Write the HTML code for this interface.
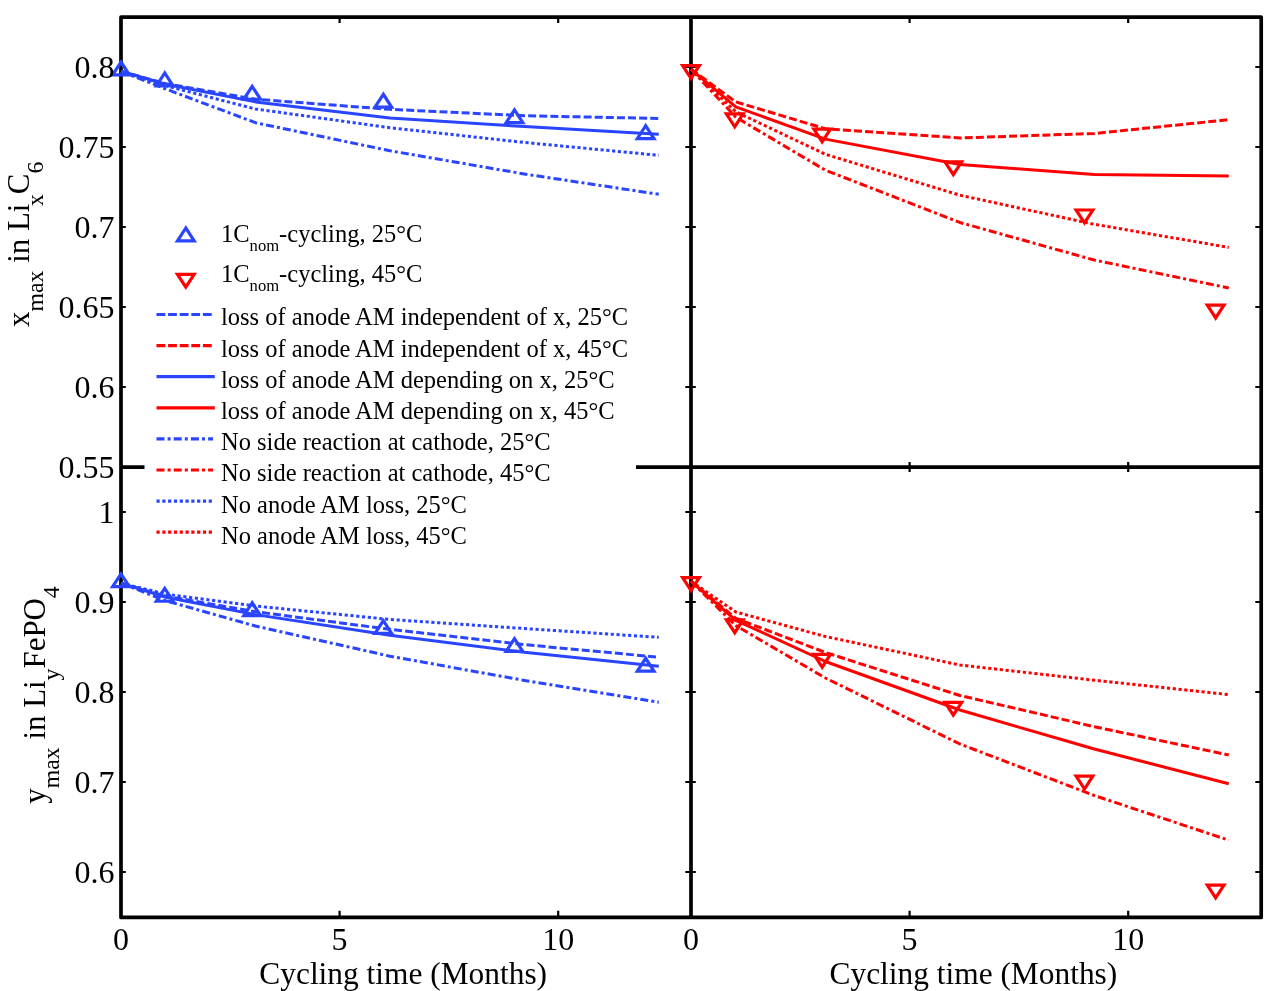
<!DOCTYPE html>
<html><head><meta charset="utf-8"><title>chart</title>
<style>
html,body{margin:0;padding:0;background:#fff;}
body{width:1280px;height:991px;overflow:hidden;}
svg{display:block;}
#wrap{filter:blur(0.45px);width:1280px;height:991px;}
text{font-family:"Liberation Serif", serif;fill:#000;}
</style></head>
<body>
<div id="wrap"><svg width="1280" height="991" viewBox="0 0 1280 991">
<rect width="1280" height="991" fill="#fff"/>
<path d="M121,387.00h4.8 M685.3,387.00h10.5 M1261,387.00h-5.7 M121,307.00h4.8 M685.3,307.00h10.5 M1261,307.00h-5.7 M121,227.00h4.8 M685.3,227.00h10.5 M1261,227.00h-5.7 M121,147.00h4.8 M685.3,147.00h10.5 M1261,147.00h-5.7 M121,67.00h4.8 M685.3,67.00h10.5 M1261,67.00h-5.7 M121,872.00h4.8 M685.3,872.00h10.5 M1261,872.00h-5.7 M121,782.00h4.8 M685.3,782.00h10.5 M1261,782.00h-5.7 M121,692.00h4.8 M685.3,692.00h10.5 M1261,692.00h-5.7 M121,602.00h4.8 M685.3,602.00h10.5 M1261,602.00h-5.7 M121,512.00h4.8 M685.3,512.00h10.5 M1261,512.00h-5.7 M339.60,17v6 M339.60,462v10 M339.60,917v-6.2 M909.60,17v6 M909.60,462v10 M909.60,917v-6.2 M558.20,17v6 M558.20,462v10 M558.20,917v-6.2 M1128.20,17v6 M1128.20,462v10 M1128.20,917v-6.2" stroke="#000" stroke-width="2.2" fill="none"/>
<path d="M121,17.2H1261.2V917.4H121Z M691,17.2V917.4 M121,467.2H1261.2" stroke="#000" stroke-width="3.7" fill="none" stroke-linejoin="round"/>
<polyline points="121.00,71.30 165.81,83.69 255.44,99.25 389.88,109.33 524.32,115.70 658.76,118.50" fill="none" stroke="#2a45ff" stroke-width="3.0" stroke-linejoin="round" stroke-dasharray="8 3.1"/>
<polyline points="121.00,71.30 165.81,84.22 255.44,101.90 389.88,117.92 524.32,126.57 658.76,134.30" fill="none" stroke="#2a45ff" stroke-width="3.0" stroke-linejoin="round"/>
<polyline points="121.00,71.30 165.81,85.79 255.44,108.96 389.88,127.73 524.32,142.44 658.76,155.30" fill="none" stroke="#2a45ff" stroke-width="3.0" stroke-linejoin="round" stroke-dasharray="3.2 2.6"/>
<polyline points="121.00,71.30 165.81,89.02 255.44,122.69 389.88,150.75 524.32,173.99 658.76,194.30" fill="none" stroke="#2a45ff" stroke-width="3.0" stroke-linejoin="round" stroke-dasharray="8 3.1 3 3.1"/>
<polyline points="691.00,69.30 735.81,101.90 825.44,128.80 959.88,138.00 1094.32,133.50 1228.76,119.70" fill="none" stroke="#ff0000" stroke-width="3.0" stroke-linejoin="round" stroke-dasharray="8 3.1"/>
<polyline points="691.00,69.30 735.81,106.90 825.44,139.10 959.88,164.50 1094.32,174.60 1228.76,175.90" fill="none" stroke="#ff0000" stroke-width="3.0" stroke-linejoin="round"/>
<polyline points="691.00,69.30 735.81,111.80 825.44,154.30 959.88,195.20 1094.32,224.29 1228.76,247.40" fill="none" stroke="#ff0000" stroke-width="3.0" stroke-linejoin="round" stroke-dasharray="3.2 2.6"/>
<polyline points="691.00,69.30 735.81,117.20 825.44,170.20 959.88,222.47 1094.32,260.05 1228.76,288.00" fill="none" stroke="#ff0000" stroke-width="3.0" stroke-linejoin="round" stroke-dasharray="8 3.1 3 3.1"/>
<polyline points="121.00,583.10 165.81,596.19 255.44,611.73 389.88,629.36 524.32,644.62 658.76,657.20" fill="none" stroke="#2a45ff" stroke-width="3.0" stroke-linejoin="round" stroke-dasharray="8 3.1"/>
<polyline points="121.00,583.10 165.81,597.21 255.44,614.61 389.88,635.25 524.32,652.32 658.76,666.30" fill="none" stroke="#2a45ff" stroke-width="3.0" stroke-linejoin="round"/>
<polyline points="121.00,583.10 165.81,594.15 255.44,606.03 389.88,619.45 524.32,628.54 658.76,637.30" fill="none" stroke="#2a45ff" stroke-width="3.0" stroke-linejoin="round" stroke-dasharray="3.2 2.6"/>
<polyline points="121.00,583.10 165.81,600.81 255.44,626.04 389.88,656.19 524.32,680.40 658.76,702.20" fill="none" stroke="#2a45ff" stroke-width="3.0" stroke-linejoin="round" stroke-dasharray="8 3.1 3 3.1"/>
<polyline points="691.00,581.30 735.81,618.30 825.44,652.50 959.88,695.50 1094.32,726.70 1228.76,755.00" fill="none" stroke="#ff0000" stroke-width="3.0" stroke-linejoin="round" stroke-dasharray="8 3.1"/>
<polyline points="691.00,581.30 735.81,620.27 825.44,661.50 959.88,710.00 1094.32,749.00 1228.76,783.80" fill="none" stroke="#ff0000" stroke-width="3.0" stroke-linejoin="round"/>
<polyline points="691.00,581.30 735.81,612.00 825.44,636.50 959.88,665.00 1094.32,680.20 1228.76,694.60" fill="none" stroke="#ff0000" stroke-width="3.0" stroke-linejoin="round" stroke-dasharray="3.2 2.6"/>
<polyline points="691.00,581.30 735.81,625.61 825.44,678.00 959.88,744.00 1094.32,795.50 1228.76,840.20" fill="none" stroke="#ff0000" stroke-width="3.0" stroke-linejoin="round" stroke-dasharray="8 3.1 3 3.1"/>
<polygon points="121.00,62.05 112.65,74.85 129.35,74.85" fill="none" stroke="#2a45ff" stroke-width="3.2"/>
<polygon points="164.72,73.00 156.37,85.80 173.07,85.80" fill="none" stroke="#2a45ff" stroke-width="3.2"/>
<polygon points="252.16,86.45 243.81,99.25 260.51,99.25" fill="none" stroke="#2a45ff" stroke-width="3.2"/>
<polygon points="383.32,94.30 374.97,107.10 391.67,107.10" fill="none" stroke="#2a45ff" stroke-width="3.2"/>
<polygon points="514.48,109.90 506.13,122.70 522.83,122.70" fill="none" stroke="#2a45ff" stroke-width="3.2"/>
<polygon points="645.64,125.75 637.29,138.55 653.99,138.55" fill="none" stroke="#2a45ff" stroke-width="3.2"/>
<polygon points="691.00,78.50 682.65,65.70 699.35,65.70" fill="none" stroke="#ff0000" stroke-width="3.2"/>
<polygon points="734.72,126.75 726.37,113.95 743.07,113.95" fill="none" stroke="#ff0000" stroke-width="3.2"/>
<polygon points="822.16,141.85 813.81,129.05 830.51,129.05" fill="none" stroke="#ff0000" stroke-width="3.2"/>
<polygon points="953.32,174.55 944.97,161.75 961.67,161.75" fill="none" stroke="#ff0000" stroke-width="3.2"/>
<polygon points="1084.48,222.80 1076.13,210.00 1092.83,210.00" fill="none" stroke="#ff0000" stroke-width="3.2"/>
<polygon points="1215.64,317.95 1207.29,305.15 1223.99,305.15" fill="none" stroke="#ff0000" stroke-width="3.2"/>
<polygon points="121.00,573.90 112.65,586.70 129.35,586.70" fill="none" stroke="#2a45ff" stroke-width="3.2"/>
<polygon points="164.72,588.45 156.37,601.25 173.07,601.25" fill="none" stroke="#2a45ff" stroke-width="3.2"/>
<polygon points="252.16,602.80 243.81,615.60 260.51,615.60" fill="none" stroke="#2a45ff" stroke-width="3.2"/>
<polygon points="383.32,620.60 374.97,633.40 391.67,633.40" fill="none" stroke="#2a45ff" stroke-width="3.2"/>
<polygon points="514.48,638.60 506.13,651.40 522.83,651.40" fill="none" stroke="#2a45ff" stroke-width="3.2"/>
<polygon points="645.64,658.30 637.29,671.10 653.99,671.10" fill="none" stroke="#2a45ff" stroke-width="3.2"/>
<polygon points="691.00,590.50 682.65,577.70 699.35,577.70" fill="none" stroke="#ff0000" stroke-width="3.2"/>
<polygon points="734.72,632.70 726.37,619.90 743.07,619.90" fill="none" stroke="#ff0000" stroke-width="3.2"/>
<polygon points="822.16,667.20 813.81,654.40 830.51,654.40" fill="none" stroke="#ff0000" stroke-width="3.2"/>
<polygon points="953.32,715.10 944.97,702.30 961.67,702.30" fill="none" stroke="#ff0000" stroke-width="3.2"/>
<polygon points="1084.48,789.00 1076.13,776.20 1092.83,776.20" fill="none" stroke="#ff0000" stroke-width="3.2"/>
<polygon points="1215.64,897.85 1207.29,885.05 1223.99,885.05" fill="none" stroke="#ff0000" stroke-width="3.2"/>
<rect x="144.5" y="212" width="491.5" height="340" fill="#fff"/>
<text x="114.60" y="477.80" font-size="32" text-anchor="end">0.55</text>
<text x="114.60" y="397.80" font-size="32" text-anchor="end">0.6</text>
<text x="114.60" y="317.80" font-size="32" text-anchor="end">0.65</text>
<text x="114.60" y="237.80" font-size="32" text-anchor="end">0.7</text>
<text x="114.60" y="157.80" font-size="32" text-anchor="end">0.75</text>
<text x="114.60" y="77.80" font-size="32" text-anchor="end">0.8</text>
<text x="114.60" y="882.80" font-size="32" text-anchor="end">0.6</text>
<text x="114.60" y="792.80" font-size="32" text-anchor="end">0.7</text>
<text x="114.60" y="702.80" font-size="32" text-anchor="end">0.8</text>
<text x="114.60" y="612.80" font-size="32" text-anchor="end">0.9</text>
<text x="114.60" y="522.80" font-size="32" text-anchor="end">1</text>
<text x="121.00" y="950.30" font-size="32" text-anchor="middle">0</text>
<text x="691.00" y="950.30" font-size="32" text-anchor="middle">0</text>
<text x="339.60" y="950.30" font-size="32" text-anchor="middle">5</text>
<text x="909.60" y="950.30" font-size="32" text-anchor="middle">5</text>
<text x="558.20" y="950.30" font-size="32" text-anchor="middle">10</text>
<text x="1128.20" y="950.30" font-size="32" text-anchor="middle">10</text>
<text x="403.20" y="984.00" font-size="31.4" text-anchor="middle">Cycling time (Months)</text>
<text x="973.40" y="984.00" font-size="31.4" text-anchor="middle">Cycling time (Months)</text>
<text transform="translate(29,244.3) rotate(-90)" font-size="30.9" text-anchor="middle">x<tspan font-size="23.8" dy="14.3">max</tspan><tspan dy="-14.3"> in Li</tspan><tspan font-size="23.8" dy="14.3" dx="-2.5">x</tspan><tspan dy="-14.3">C</tspan><tspan font-size="23.8" dy="14.3">6</tspan></text>
<text transform="translate(44.7,695) rotate(-90)" font-size="30.9" text-anchor="middle">y<tspan font-size="23.8" dy="14.3">max</tspan><tspan dy="-14.3"> in Li</tspan><tspan font-size="23.8" dy="14.3">y</tspan><tspan dy="-14.3">FePO</tspan><tspan font-size="23.8" dy="14.3">4</tspan></text>
<polygon points="185.80,228.00 177.45,240.80 194.15,240.80" fill="none" stroke="#2a45ff" stroke-width="3.2"/>
<polygon points="185.80,287.10 177.45,274.30 194.15,274.30" fill="none" stroke="#ff0000" stroke-width="3.2"/>
<text x="221.0" y="242.1" font-size="24.5">1C<tspan font-size="16.6" dy="8.7">nom</tspan><tspan dy="-8.7">-cycling, 25&#176;C</tspan></text>
<text x="221.0" y="281.9" font-size="24.5">1C<tspan font-size="16.6" dy="8.7">nom</tspan><tspan dy="-8.7">-cycling, 45&#176;C</tspan></text>
<polyline points="156.50,314.50 213.00,314.50" fill="none" stroke="#2a45ff" stroke-width="3.2" stroke-linejoin="round" stroke-dasharray="8.8 2.8"/>
<text x="221.00" y="325.30" font-size="24.5" text-anchor="start">loss of anode AM independent of x, 25&#176;C</text>
<polyline points="156.50,345.60 213.00,345.60" fill="none" stroke="#ff0000" stroke-width="3.2" stroke-linejoin="round" stroke-dasharray="8.8 2.8"/>
<text x="221.00" y="356.50" font-size="24.5" text-anchor="start">loss of anode AM independent of x, 45&#176;C</text>
<polyline points="156.50,376.70 214.80,376.70" fill="none" stroke="#2a45ff" stroke-width="3.2" stroke-linejoin="round"/>
<text x="221.00" y="387.70" font-size="24.5" text-anchor="start">loss of anode AM depending on x, 25&#176;C</text>
<polyline points="156.50,407.80 214.80,407.80" fill="none" stroke="#ff0000" stroke-width="3.2" stroke-linejoin="round"/>
<text x="221.00" y="418.90" font-size="24.5" text-anchor="start">loss of anode AM depending on x, 45&#176;C</text>
<polyline points="156.50,438.90 213.00,438.90" fill="none" stroke="#2a45ff" stroke-width="3.2" stroke-linejoin="round" stroke-dasharray="8 3.1 3 3.1"/>
<text x="221.00" y="450.10" font-size="24.5" text-anchor="start">No side reaction at cathode, 25&#176;C</text>
<polyline points="156.50,470.00 213.00,470.00" fill="none" stroke="#ff0000" stroke-width="3.2" stroke-linejoin="round" stroke-dasharray="8 3.1 3 3.1"/>
<text x="221.00" y="481.30" font-size="24.5" text-anchor="start">No side reaction at cathode, 45&#176;C</text>
<polyline points="156.50,501.10 213.00,501.10" fill="none" stroke="#2a45ff" stroke-width="3.2" stroke-linejoin="round" stroke-dasharray="3.2 2.6"/>
<text x="221.00" y="512.50" font-size="24.5" text-anchor="start">No anode AM loss, 25&#176;C</text>
<polyline points="156.50,532.20 213.00,532.20" fill="none" stroke="#ff0000" stroke-width="3.2" stroke-linejoin="round" stroke-dasharray="3.2 2.6"/>
<text x="221.00" y="543.70" font-size="24.5" text-anchor="start">No anode AM loss, 45&#176;C</text>
</svg></div>
</body></html>
